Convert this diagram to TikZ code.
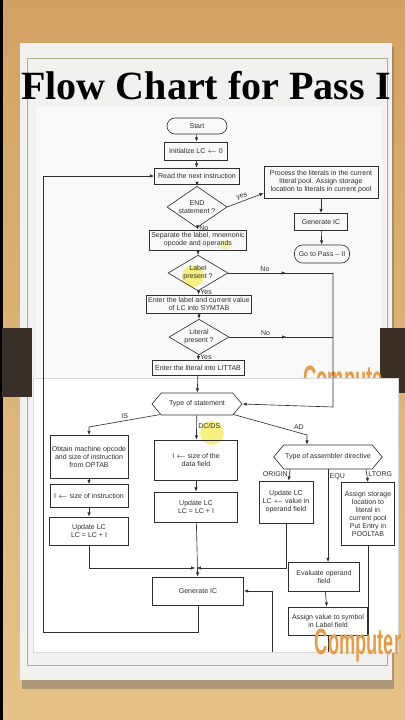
\documentclass[tikz,border=0pt]{standalone}
\usepackage{fontspec}
\setmainfont{Liberation Serif}
\setsansfont{Liberation Sans}
\usetikzlibrary{positioning, arrows.meta, shapes.geometric, shapes.symbols, decorations.markings}

\definecolor{woodtop}{HTML}{D3A263}
\definecolor{woodbot}{HTML}{E7C388}
\definecolor{slidegray}{HTML}{F1F1EF}
\definecolor{framegreen}{HTML}{A7B088}
\definecolor{barbrown}{HTML}{3B3028}
\definecolor{inkgray}{HTML}{2F2F2F}
\definecolor{logoorange}{HTML}{E89A45}
\definecolor{markyellow}{HTML}{F6EC5A}

\begin{document}
\begin{tikzpicture}[x=0.025cm, y=-0.025cm,
    box/.style={draw=inkgray, line width=0.45pt, text=inkgray, align=center,
      font=\sffamily\fontsize{5}{5.8}\selectfont, inner sep=1pt},
    term/.style={box, rounded corners=0.2cm},
    decision/.style={box, diamond, inner sep=-1.5pt, minimum width=1.5cm},
    hexa/.style={box, signal, signal to=west and east, signal pointer angle=100, inner sep=1pt},
    flow/.style={draw=inkgray, line width=0.45pt, -{Latex[length=3pt, width=2.4pt]}},
    link/.style={draw=inkgray, line width=0.45pt},
    midarrow/.style={link, postaction={decorate}, decoration={markings,
      mark=at position 0.55 with {\arrow{Latex[length=3pt, width=2.4pt]}}}},
    lbl/.style={font=\sffamily\fontsize{5}{6}\selectfont, text=inkgray, inner sep=1pt},
    logo/.style={text=logoorange, font=\sffamily\bfseries\fontsize{26}{26}\selectfont, inner sep=0pt}]

    % slide and backdrop
    \useasboundingbox (0,0) rectangle (405,720);
    \shade[top color=woodtop, bottom color=woodbot] (0,0) rectangle (405,720);
    \fill[black] (0,0) rectangle (3,720);
    \fill[black!60, opacity=0.45] (22,47) rectangle (394,689);
    \fill[slidegray] (20,43) rectangle (392,680);
    \draw[framegreen, line width=0.5pt] (27,58) rectangle (387,665);
    \fill[white!60!slidegray] (36,106) rectangle (382,378);
    \node[font=\bfseries\fontsize{28.5}{30}\selectfont] (title) at (206,86) {Flow Chart for Pass I};
    \fill[barbrown] (2,328) rectangle (32,397);
    \fill[barbrown] (380,328) rectangle (405,393);
    \node[logo] (logotop) at (343,383) {\scalebox{0.5}[1]{Compute}};
    \draw[black!15, fill=white] (33,378) rectangle (398,652);
    \fill[markyellow, opacity=0.75] (193,276) circle (11);
    \fill[markyellow, opacity=0.75] (212,433) circle (12);
    \fill[markyellow, opacity=0.5] (225,245) circle (5);

    % upper half
    \node[term, minimum width=1.5cm, minimum height=0.4cm] (start) at (197,126) {Start};
    \node[box, minimum width=1.575cm, minimum height=0.45cm] (init) at (196,151) {Initialize LC \(\leftarrow\) 0};
    \node[box, minimum width=2.125cm, minimum height=0.4cm] (read) at (197,176) {Read the next instruction};
    \node[decision, minimum height=0.75cm] (endq) at (197,207) {END\\statement ?};
    \node[box, minimum width=2.425cm, minimum height=0.5cm] (sep) at (198,240) {Separate the label, mnemonic\\opcode and operands};
    \node[decision, minimum height=0.7cm] (labq) at (198,273) {Label\\present ?};
    \node[box, minimum width=2.6cm, minimum height=0.45cm] (symtab) at (199,304) {Enter the label and current value\\of LC into SYMTAB};
    \node[decision, minimum height=0.68cm] (litq) at (199,337) {Literal\\present ?};
    \node[box, minimum width=2.3cm, minimum height=0.375cm] (littab) at (198,368) {Enter the literal into LITTAB};
    \node[box, minimum width=2.85cm, minimum height=0.8cm] (process) at (321,182) {Process the literals in the current\\literal pool. Assign storage\\location to literals in current pool};
    \node[box, minimum width=1.325cm, minimum height=0.425cm] (genic1) at (321,222) {Generate IC};
    \node[term, minimum width=1.375cm, minimum height=0.45cm] (pass2) at (322,254) {Go to Pass -- II};

    % lower half
    \node[hexa, minimum width=2.25cm, minimum height=0.55cm] (tos) at (197,404) {Type of statement};
    \node[box, minimum width=1.95cm, minimum height=1.075cm] (optab) at (89,457) {Obtain machine opcode\\and size of instruction\\from OPTAB};
    \node[box, minimum width=1.95cm, minimum height=0.575cm] (isize) at (89,496) {I \(\leftarrow\) size of instruction};
    \node[box, minimum width=1.975cm, minimum height=0.7cm] (upd1) at (89,531) {Update LC\\LC = LC + I};
    \node[box, minimum width=2.075cm, minimum height=1cm] (dsize) at (196,460) {I \(\leftarrow\) size of the\\data field};
    \node[box, minimum width=2.075cm, minimum height=0.75cm] (upd2) at (196,507) {Update LC\\LC = LC + I};
    \node[hexa, minimum width=2.35cm, minimum height=0.6cm] (toad) at (328,457) {Type of assembler directive};
    \node[box, minimum width=1.35cm, minimum height=1.05cm] (updo) at (286,502) {Update LC\\LC \(\leftarrow\) value in\\operand field};
    \node[box, minimum width=1.325cm, minimum height=1.575cm] (pool) at (368,514) {Assign storage\\location to\\literal in\\current pool\\Put Entry in\\POOLTAB};
    \node[box, minimum width=1.775cm, minimum height=0.725cm] (evop) at (324,577) {Evaluate operand\\field};
    \node[box, minimum width=1.975cm, minimum height=0.7cm] (asym) at (328,621) {Assign value to symbol\\in Label field};
    \node[box, minimum width=2.275cm, minimum height=0.7cm] (genic2) at (198,591) {Generate IC};

    \coordinate (nocol) at (333,407);
    \coordinate (isk) at (89,427);
    \coordinate (adk) at (307,435);
    \coordinate (lj) at (89,568);
    \coordinate (rj) at (286,568);
    \coordinate (join) at (196,568);
    \coordinate (loop) at (43,632);
    \coordinate (rb) at (272,652);
    \coordinate (poolend) at (368,652);
    \coordinate (asymend) at (328,652);

    \draw[flow] (start) -- (init);
    \draw[flow] (init) -- (read);
    \draw[flow] (read) -- (endq);
    \draw[flow] (endq) -- node[lbl, right, pos=0.35] {No} (sep);
    \draw[flow] (endq.east) -- node[lbl, above, sloped, pos=0.45] {yes} (process.191);
    \draw[flow] (process) -- (genic1);
    \draw[flow] (genic1) -- (pass2);
    \draw[flow] (sep) -- (labq);
    \draw[flow] (labq) -- node[lbl, right, pos=0.4] {Yes} (symtab);
    \draw[flow] (symtab) -- (litq);
    \draw[flow] (litq) -- node[lbl, right, pos=0.45] {Yes} (littab);
    \draw[flow] (littab) -- (tos);
    \draw[midarrow] (labq.east) -- node[lbl, above, pos=0.35] {No} (labq.east -| nocol);
    \draw[midarrow] (litq.east) -- node[lbl, above, pos=0.35] {No} (litq.east -| nocol);
    \draw[flow] (labq.east -| nocol) -- (nocol) -- (tos.east);

    \draw[flow] (tos.196) -- node[lbl, above, pos=0.5] {IS} (isk) -- (optab);
    \draw[flow] (tos) -- node[lbl, right, pos=0.45] {DC/DS} (dsize);
    \draw[flow] (tos.-16) -- node[lbl, above right, pos=0.8] {AD} (adk) -- (adk |- toad.north);
    \draw[flow] (optab) -- (isize);
    \draw[flow] (isize) -- (upd1);
    \draw[flow] (dsize) -- (upd2);
    \draw[flow] (toad.198) -- node[lbl, left, pos=0.4] {ORIGIN} (updo);
    \draw[flow] (toad.south) -- node[lbl, right, pos=0.08] {EQU} (toad.south |- evop.north);
    \draw[flow] (toad.-18) -- node[lbl, right, pos=0.4] {LTORG} (pool.north);
    \draw[flow] (evop) -- (asym);
    \draw[link] (pool) -- (poolend);
    \draw[link] (asym) -- (asymend);
    \draw[flow] (upd1) -- (lj) -- ([xshift=-0.5pt]join);
    \draw[flow] (updo) -- (rj) -- ([xshift=0.5pt]join);
    \draw[flow] (upd2) -- (genic2);
    \draw[flow] (genic2.south) |- (loop) |- (read.west);
    \draw[flow] (rb) |- (genic2.east);

    \node[logo] (logo) at (358,646) {\scalebox{0.5}[1]{Computer}};
\end{tikzpicture}
\end{document}
